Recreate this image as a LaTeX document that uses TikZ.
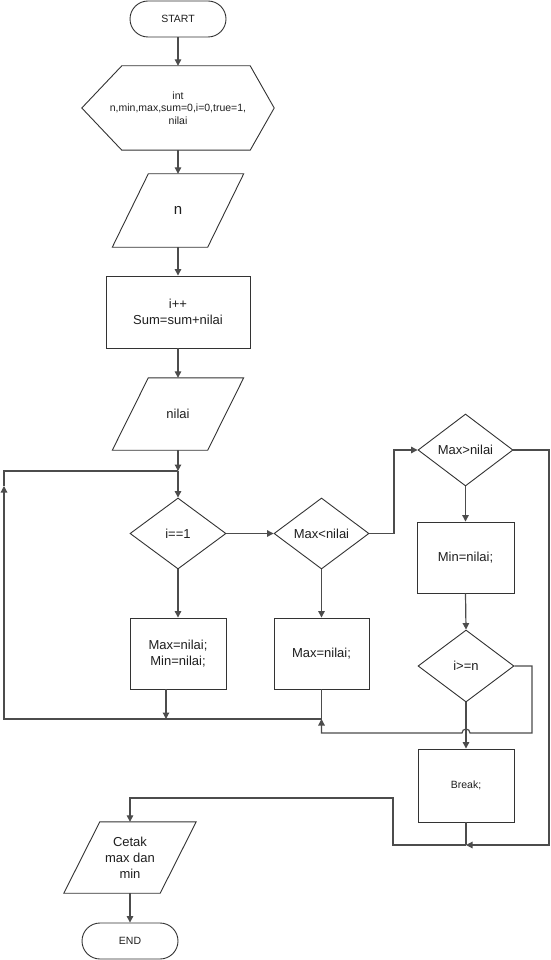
\documentclass[tikz,border=0pt]{standalone}
\usepackage{fontspec}
\setmainfont{Liberation Sans}
\usetikzlibrary{arrows.meta,shapes.geometric,calc}
\begin{document}
\begin{tikzpicture}[x=1pt,y=-1pt,
  every node/.style={font=\fontsize{13}{16}\selectfont, text=black!88, inner sep=0pt, align=center},
  outl/.style={draw=black!80, line width=0.9pt},
  smallfont/.style={font=\fontsize{10.5}{12.5}\selectfont},
  term/.style={outl, rectangle, rounded corners=18pt, minimum width=96pt, minimum height=36pt, smallfont},
  proc/.style={outl, rectangle, minimum width=96pt, minimum height=71pt},
  dec/.style={outl, diamond, minimum width=96pt, minimum height=71pt},
  iobox/.style={rectangle, minimum width=95pt, minimum height=72pt},
  conn/.style={draw=black!70, line width=1.2pt, -{Triangle[length=6.5pt,width=6.5pt]}},
  wire/.style={draw=black!70, line width=1.2pt},
]
\useasboundingbox (0,0) rectangle (550,960);
\fill[white] (0,0) rectangle (550,960);

% nodes
\node[term] (start) at (178,19) {START};
\node[rectangle, minimum width=192pt, minimum height=84pt, smallfont] (decl) at (178,108) {int\\n,min,max,sum=0,i=0,true=1,\\nilai};
\draw[outl] (decl.west) -- ($(decl.north west)+(40,0)$) -- ($(decl.north east)+(-24,0)$) -- (decl.east) -- ($(decl.south east)+(-24,0)$) -- ($(decl.south west)+(40,0)$) -- cycle;

\node[iobox, minimum height=73pt, font=\fontsize{15}{18}\selectfont] (inn) at (178,210.5) {n};
\draw[outl] ($(inn.south west)+(-18,0)$) -- ($(inn.north west)+(18,0)$) -- ($(inn.north east)+(18,0)$) -- ($(inn.south east)+(-18,0)$) -- cycle;

\node[proc, minimum width=144pt, minimum height=72pt] (inc) at (178,312) {i++\\Sum=sum+nilai};

\node[iobox] (innilai) at (178,414) {nilai};
\draw[outl] ($(innilai.south west)+(-18,0)$) -- ($(innilai.north west)+(18,0)$) -- ($(innilai.north east)+(18,0)$) -- ($(innilai.south east)+(-18,0)$) -- cycle;

\node[dec] (d1) at (178,533.5) {i==1};
\node[dec, minimum width=95pt] (d2) at (321.5,533.5) {Max<nilai};
\node[dec, minimum width=95pt, minimum height=72pt] (d3) at (465.5,450) {Max>nilai};
\node[proc] (r1) at (178,653.5) {Max=nilai;\\Min=nilai;};
\node[proc, minimum width=95pt] (r2) at (321.5,653.5) {Max=nilai;};
\node[proc, minimum width=97pt] (r3) at (465.5,557.5) {Min=nilai;};
\node[dec, minimum height=72pt] (d4) at (466,666) {i>=n};
\node[proc, minimum height=73pt, smallfont] (brk) at (466,785.5) {Break;};

\node[iobox, minimum width=96pt, minimum height=71pt] (cetak) at (130,857.5) {Cetak\\max dan\\min};
\draw[outl] ($(cetak.south west)+(-18,0)$) -- ($(cetak.north west)+(18,0)$) -- ($(cetak.north east)+(18,0)$) -- ($(cetak.south east)+(-18,0)$) -- cycle;

\node[term] (end) at (130,941) {END};

% junction coordinates
\coordinate (j1) at (178,471);
\coordinate (j2) at (166,719);
\coordinate (j3) at (321.5,719);
\coordinate (lb) at (4,719);
\coordinate (la) at (4,486);
\coordinate (lt) at (4,471);
\coordinate (c1) at (532,733);
\coordinate (hopR) at (470,733);
\coordinate (c2) at (321.5,733);
\coordinate (c3) at (394,533.5);
\coordinate (c4) at (549,845);
\coordinate (j4) at (466,845);
\coordinate (c5) at (393,845);
\coordinate (c6) at (393,798);

% plain wires first
\draw[wire] (la) -- (lt) -- (j1);
\draw[wire] (r2.south) -- (j3);
\draw[wire] (brk.south) -- (j4);

% connectors
\draw[conn] (start) -- (decl);
\draw[conn] (decl) -- (inn);
\draw[conn] (inn) -- (inc);
\draw[conn] (inc) -- (innilai);
\draw[conn] (innilai) -- (j1);
\draw[conn] (j1) -- (d1.north);
\draw[conn] (d1.east) -- (d2.west);
\draw[conn] (d1.south) -- (r1.north);
\draw[conn] (d2.south) -- (r2.north);
\draw[conn] (r1.south -| j2) -- (j2);
\draw[conn] (j3) -- (lb) -- (la);
\draw[conn] (d2.east) -- (c3) |- (d3.west);
\draw[conn] (d3.south) -- (r3.north);
\draw[conn] (r3.south) -- (d4.north);
\draw[conn] (d4.south) -- (brk.north);
\draw[conn] (d4.east) -| (c1) -- (hopR) arc[start angle=0, end angle=180, radius=4pt] -- (c2) -- (j3);
\draw[conn] (d3.east) -| (c4) -- (j4);
\draw[conn] (j4) -- (c5) -- (c6) -| (cetak.north);
\draw[conn] (cetak) -- (end);
\end{tikzpicture}
\end{document}
